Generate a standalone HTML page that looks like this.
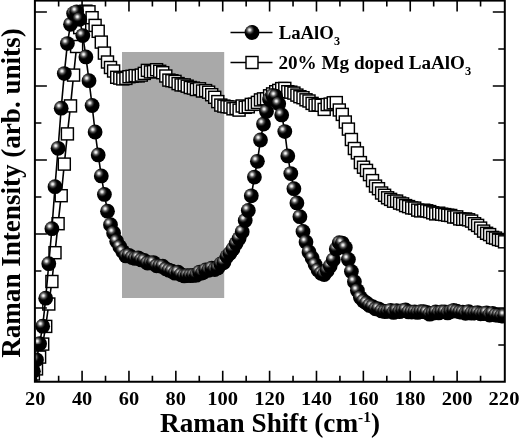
<!DOCTYPE html>
<html><head><meta charset="utf-8"><title>Raman</title><style>html,body{margin:0;padding:0;background:#fff}body{width:520px;height:439px;position:relative;overflow:hidden}</style></head><body>
<svg width="520" height="439" viewBox="0 0 520 439" style="position:absolute;left:0;top:0">
<defs><radialGradient id="g" cx="0.34" cy="0.325" r="0.34"><stop offset="0" stop-color="#fff"/><stop offset="0.2" stop-color="#dadada"/><stop offset="0.5" stop-color="#606060"/><stop offset="0.8" stop-color="#181818"/><stop offset="1" stop-color="#000"/></radialGradient>
<clipPath id="c"><rect x="34.9" y="0.6" width="469.90000000000003" height="381.15"/></clipPath></defs>
<rect width="520" height="439" fill="#fff"/>
<rect x="122" y="52" width="102.2" height="246" fill="#a9a9a9"/>
<g clip-path="url(#c)">
<polyline points="30.3,378.0 33.4,374.0 36.5,368.9 39.6,357.1 42.7,344.1 45.7,326.4 48.8,304.0 51.9,281.5 55.0,252.7 58.1,223.7 61.2,195.7 64.3,164.1 67.4,133.9 70.5,105.9 73.6,75.1 76.6,46.5 79.7,27.6 82.8,16.9 85.9,11.2 89.0,11.8 92.1,17.7 95.1,25.4 98.2,31.3 101.3,42.1 104.4,53.1 107.5,62.0 110.5,67.5 113.6,71.0 116.7,77.3 119.8,78.1 122.8,78.9 125.9,78.4 129.0,76.7 132.1,76.3 135.1,75.6 138.2,75.9 141.3,75.1 144.3,73.4 147.4,70.4 150.5,71.9 153.5,71.6 156.6,69.7 159.7,71.3 162.7,72.7 165.8,76.0 168.9,80.1 171.9,80.7 175.0,81.4 178.1,83.6 181.1,84.9 184.2,84.9 187.2,86.2 190.3,87.5 193.4,88.1 196.4,89.5 199.5,88.8 202.5,91.0 205.6,90.6 208.6,92.2 211.7,94.7 214.7,97.3 217.8,101.6 220.8,105.1 223.9,106.1 227.0,106.7 230.0,107.0 233.0,108.8 236.1,108.5 239.1,110.1 242.2,106.0 245.2,107.3 248.3,106.8 251.3,104.4 254.4,104.2 257.4,102.4 260.5,99.9 263.5,98.9 266.5,98.8 269.6,95.8 272.6,93.9 275.7,91.7 278.7,90.4 281.7,88.6 284.8,88.4 287.8,91.7 290.8,92.2 293.9,93.1 296.9,95.1 299.9,96.7 303.0,97.7 306.0,99.8 309.0,101.0 312.1,103.4 315.1,105.2 318.1,104.8 321.1,105.3 324.2,109.4 327.2,104.6 330.2,104.1 333.3,102.8 336.3,102.6 339.3,110.0 342.3,114.4 345.3,122.0 348.4,129.1 351.4,139.5 354.4,148.5 357.4,152.9 360.4,162.6 363.5,167.2 366.5,170.4 369.5,174.6 372.5,180.6 375.5,186.1 378.5,188.7 381.6,193.0 384.6,195.3 387.6,197.8 390.6,199.4 393.6,201.2 396.6,201.1 399.6,203.1 402.6,203.9 405.6,205.6 408.6,206.6 411.7,207.9 414.7,208.1 417.7,210.1 420.7,210.9 423.7,210.2 426.7,210.8 429.7,211.6 432.7,212.8 435.7,213.9 438.7,213.2 441.7,214.2 444.7,214.6 447.7,215.2 450.7,215.5 453.7,217.0 456.7,216.9 459.7,218.9 462.7,219.3 465.6,219.0 468.6,219.8 471.6,221.1 474.6,223.7 477.6,225.4 480.6,228.1 483.6,231.1 486.6,233.3 489.6,234.6 492.6,237.4 495.5,238.1 498.5,239.5 501.5,240.2 504.5,241.8" fill="none" stroke="#000" stroke-width="1.6"/>
<g fill="#fff" stroke="#000" stroke-width="1.45">
<rect x="24.3" y="372.0" width="12.0" height="12.0"/>
<rect x="27.4" y="368.0" width="12.0" height="12.0"/>
<rect x="30.5" y="362.9" width="12.0" height="12.0"/>
<rect x="33.6" y="351.1" width="12.0" height="12.0"/>
<rect x="36.7" y="338.1" width="12.0" height="12.0"/>
<rect x="39.7" y="320.4" width="12.0" height="12.0"/>
<rect x="42.8" y="298.0" width="12.0" height="12.0"/>
<rect x="45.9" y="275.5" width="12.0" height="12.0"/>
<rect x="49.0" y="246.7" width="12.0" height="12.0"/>
<rect x="52.1" y="217.7" width="12.0" height="12.0"/>
<rect x="55.2" y="189.7" width="12.0" height="12.0"/>
<rect x="58.3" y="158.1" width="12.0" height="12.0"/>
<rect x="61.4" y="127.9" width="12.0" height="12.0"/>
<rect x="64.5" y="99.9" width="12.0" height="12.0"/>
<rect x="67.6" y="69.1" width="12.0" height="12.0"/>
<rect x="70.6" y="40.5" width="12.0" height="12.0"/>
<rect x="73.7" y="21.6" width="12.0" height="12.0"/>
<rect x="76.8" y="10.9" width="12.0" height="12.0"/>
<rect x="79.9" y="5.2" width="12.0" height="12.0"/>
<rect x="83.0" y="5.8" width="12.0" height="12.0"/>
<rect x="86.1" y="11.7" width="12.0" height="12.0"/>
<rect x="89.1" y="19.4" width="12.0" height="12.0"/>
<rect x="92.2" y="25.3" width="12.0" height="12.0"/>
<rect x="95.3" y="36.1" width="12.0" height="12.0"/>
<rect x="98.4" y="47.1" width="12.0" height="12.0"/>
<rect x="101.5" y="56.0" width="12.0" height="12.0"/>
<rect x="104.5" y="61.5" width="12.0" height="12.0"/>
<rect x="107.6" y="65.0" width="12.0" height="12.0"/>
<rect x="110.7" y="71.3" width="12.0" height="12.0"/>
<rect x="113.8" y="72.1" width="12.0" height="12.0"/>
<rect x="116.8" y="72.9" width="12.0" height="12.0"/>
<rect x="119.9" y="72.4" width="12.0" height="12.0"/>
<rect x="123.0" y="70.7" width="12.0" height="12.0"/>
<rect x="126.1" y="70.3" width="12.0" height="12.0"/>
<rect x="129.1" y="69.6" width="12.0" height="12.0"/>
<rect x="132.2" y="69.9" width="12.0" height="12.0"/>
<rect x="135.3" y="69.1" width="12.0" height="12.0"/>
<rect x="138.3" y="67.4" width="12.0" height="12.0"/>
<rect x="141.4" y="64.4" width="12.0" height="12.0"/>
<rect x="144.5" y="65.9" width="12.0" height="12.0"/>
<rect x="147.5" y="65.6" width="12.0" height="12.0"/>
<rect x="150.6" y="63.7" width="12.0" height="12.0"/>
<rect x="153.7" y="65.3" width="12.0" height="12.0"/>
<rect x="156.7" y="66.7" width="12.0" height="12.0"/>
<rect x="159.8" y="70.0" width="12.0" height="12.0"/>
<rect x="162.9" y="74.1" width="12.0" height="12.0"/>
<rect x="165.9" y="74.7" width="12.0" height="12.0"/>
<rect x="169.0" y="75.4" width="12.0" height="12.0"/>
<rect x="172.1" y="77.6" width="12.0" height="12.0"/>
<rect x="175.1" y="78.9" width="12.0" height="12.0"/>
<rect x="178.2" y="78.9" width="12.0" height="12.0"/>
<rect x="181.2" y="80.2" width="12.0" height="12.0"/>
<rect x="184.3" y="81.5" width="12.0" height="12.0"/>
<rect x="187.4" y="82.1" width="12.0" height="12.0"/>
<rect x="190.4" y="83.5" width="12.0" height="12.0"/>
<rect x="193.5" y="82.8" width="12.0" height="12.0"/>
<rect x="196.5" y="85.0" width="12.0" height="12.0"/>
<rect x="199.6" y="84.6" width="12.0" height="12.0"/>
<rect x="202.6" y="86.2" width="12.0" height="12.0"/>
<rect x="205.7" y="88.7" width="12.0" height="12.0"/>
<rect x="208.7" y="91.3" width="12.0" height="12.0"/>
<rect x="211.8" y="95.6" width="12.0" height="12.0"/>
<rect x="214.8" y="99.1" width="12.0" height="12.0"/>
<rect x="217.9" y="100.1" width="12.0" height="12.0"/>
<rect x="221.0" y="100.7" width="12.0" height="12.0"/>
<rect x="224.0" y="101.0" width="12.0" height="12.0"/>
<rect x="227.0" y="102.8" width="12.0" height="12.0"/>
<rect x="230.1" y="102.5" width="12.0" height="12.0"/>
<rect x="233.1" y="104.1" width="12.0" height="12.0"/>
<rect x="236.2" y="100.0" width="12.0" height="12.0"/>
<rect x="239.2" y="101.3" width="12.0" height="12.0"/>
<rect x="242.3" y="100.8" width="12.0" height="12.0"/>
<rect x="245.3" y="98.4" width="12.0" height="12.0"/>
<rect x="248.4" y="98.2" width="12.0" height="12.0"/>
<rect x="251.4" y="96.4" width="12.0" height="12.0"/>
<rect x="254.5" y="93.9" width="12.0" height="12.0"/>
<rect x="257.5" y="92.9" width="12.0" height="12.0"/>
<rect x="260.5" y="92.8" width="12.0" height="12.0"/>
<rect x="263.6" y="89.8" width="12.0" height="12.0"/>
<rect x="266.6" y="87.9" width="12.0" height="12.0"/>
<rect x="269.7" y="85.7" width="12.0" height="12.0"/>
<rect x="272.7" y="84.4" width="12.0" height="12.0"/>
<rect x="275.7" y="82.6" width="12.0" height="12.0"/>
<rect x="278.8" y="82.4" width="12.0" height="12.0"/>
<rect x="281.8" y="85.7" width="12.0" height="12.0"/>
<rect x="284.8" y="86.2" width="12.0" height="12.0"/>
<rect x="287.9" y="87.1" width="12.0" height="12.0"/>
<rect x="290.9" y="89.1" width="12.0" height="12.0"/>
<rect x="293.9" y="90.7" width="12.0" height="12.0"/>
<rect x="297.0" y="91.7" width="12.0" height="12.0"/>
<rect x="300.0" y="93.8" width="12.0" height="12.0"/>
<rect x="303.0" y="95.0" width="12.0" height="12.0"/>
<rect x="306.1" y="97.4" width="12.0" height="12.0"/>
<rect x="309.1" y="99.2" width="12.0" height="12.0"/>
<rect x="312.1" y="98.8" width="12.0" height="12.0"/>
<rect x="315.1" y="99.3" width="12.0" height="12.0"/>
<rect x="318.2" y="103.4" width="12.0" height="12.0"/>
<rect x="321.2" y="98.6" width="12.0" height="12.0"/>
<rect x="324.2" y="98.1" width="12.0" height="12.0"/>
<rect x="327.3" y="96.8" width="12.0" height="12.0"/>
<rect x="330.3" y="96.6" width="12.0" height="12.0"/>
<rect x="333.3" y="104.0" width="12.0" height="12.0"/>
<rect x="336.3" y="108.4" width="12.0" height="12.0"/>
<rect x="339.3" y="116.0" width="12.0" height="12.0"/>
<rect x="342.4" y="123.1" width="12.0" height="12.0"/>
<rect x="345.4" y="133.5" width="12.0" height="12.0"/>
<rect x="348.4" y="142.5" width="12.0" height="12.0"/>
<rect x="351.4" y="146.9" width="12.0" height="12.0"/>
<rect x="354.4" y="156.6" width="12.0" height="12.0"/>
<rect x="357.5" y="161.2" width="12.0" height="12.0"/>
<rect x="360.5" y="164.4" width="12.0" height="12.0"/>
<rect x="363.5" y="168.6" width="12.0" height="12.0"/>
<rect x="366.5" y="174.6" width="12.0" height="12.0"/>
<rect x="369.5" y="180.1" width="12.0" height="12.0"/>
<rect x="372.5" y="182.7" width="12.0" height="12.0"/>
<rect x="375.6" y="187.0" width="12.0" height="12.0"/>
<rect x="378.6" y="189.3" width="12.0" height="12.0"/>
<rect x="381.6" y="191.8" width="12.0" height="12.0"/>
<rect x="384.6" y="193.4" width="12.0" height="12.0"/>
<rect x="387.6" y="195.2" width="12.0" height="12.0"/>
<rect x="390.6" y="195.1" width="12.0" height="12.0"/>
<rect x="393.6" y="197.1" width="12.0" height="12.0"/>
<rect x="396.6" y="197.9" width="12.0" height="12.0"/>
<rect x="399.6" y="199.6" width="12.0" height="12.0"/>
<rect x="402.6" y="200.6" width="12.0" height="12.0"/>
<rect x="405.7" y="201.9" width="12.0" height="12.0"/>
<rect x="408.7" y="202.1" width="12.0" height="12.0"/>
<rect x="411.7" y="204.1" width="12.0" height="12.0"/>
<rect x="414.7" y="204.9" width="12.0" height="12.0"/>
<rect x="417.7" y="204.2" width="12.0" height="12.0"/>
<rect x="420.7" y="204.8" width="12.0" height="12.0"/>
<rect x="423.7" y="205.6" width="12.0" height="12.0"/>
<rect x="426.7" y="206.8" width="12.0" height="12.0"/>
<rect x="429.7" y="207.9" width="12.0" height="12.0"/>
<rect x="432.7" y="207.2" width="12.0" height="12.0"/>
<rect x="435.7" y="208.2" width="12.0" height="12.0"/>
<rect x="438.7" y="208.6" width="12.0" height="12.0"/>
<rect x="441.7" y="209.2" width="12.0" height="12.0"/>
<rect x="444.7" y="209.5" width="12.0" height="12.0"/>
<rect x="447.7" y="211.0" width="12.0" height="12.0"/>
<rect x="450.7" y="210.9" width="12.0" height="12.0"/>
<rect x="453.7" y="212.9" width="12.0" height="12.0"/>
<rect x="456.7" y="213.3" width="12.0" height="12.0"/>
<rect x="459.6" y="213.0" width="12.0" height="12.0"/>
<rect x="462.6" y="213.8" width="12.0" height="12.0"/>
<rect x="465.6" y="215.1" width="12.0" height="12.0"/>
<rect x="468.6" y="217.7" width="12.0" height="12.0"/>
<rect x="471.6" y="219.4" width="12.0" height="12.0"/>
<rect x="474.6" y="222.1" width="12.0" height="12.0"/>
<rect x="477.6" y="225.1" width="12.0" height="12.0"/>
<rect x="480.6" y="227.3" width="12.0" height="12.0"/>
<rect x="483.6" y="228.6" width="12.0" height="12.0"/>
<rect x="486.6" y="231.4" width="12.0" height="12.0"/>
<rect x="489.5" y="232.1" width="12.0" height="12.0"/>
<rect x="492.5" y="233.5" width="12.0" height="12.0"/>
<rect x="495.5" y="234.2" width="12.0" height="12.0"/>
<rect x="498.5" y="235.8" width="12.0" height="12.0"/>
</g>
<polyline points="30.3,381.0 33.4,371.3 36.5,359.8 39.6,343.7 42.7,326.2 45.7,298.2 48.8,263.7 51.9,228.7 55.0,186.7 58.1,148.3 61.2,108.2 64.3,73.6 67.4,43.6 70.5,24.3 73.6,13.4 76.6,11.8 79.7,19.3 82.8,35.6 85.9,56.9 89.0,80.7 92.1,105.5 95.1,132.0 98.2,154.9 101.3,175.9 104.4,194.4 107.5,211.2 110.5,224.7 113.6,232.9 116.7,241.2 119.8,246.7 122.8,251.5 125.9,255.9 129.0,255.3 132.1,257.5 135.1,258.4 138.2,257.8 141.3,259.9 144.3,260.4 147.4,263.1 150.5,262.9 153.5,262.6 156.6,265.8 159.7,266.1 162.7,266.2 165.8,268.8 168.9,270.2 171.9,271.2 175.0,273.2 178.1,272.2 181.1,274.7 184.2,275.9 187.2,275.6 190.3,275.7 193.4,275.4 196.4,275.2 199.5,272.1 202.5,273.1 205.6,269.9 208.6,270.3 211.7,268.1 214.7,269.5 217.8,267.9 220.8,264.0 223.9,262.4 227.0,256.4 230.0,253.2 233.0,248.9 236.1,243.6 239.1,238.4 242.2,231.8 245.2,220.4 248.3,210.4 251.3,195.8 254.4,177.1 257.4,161.3 260.5,140.0 263.5,124.1 266.5,111.6 269.6,99.4 272.6,95.5 275.7,96.2 278.7,103.7 281.7,114.9 284.8,131.6 287.8,155.9 290.8,173.6 293.9,188.7 296.9,202.9 299.9,216.7 303.0,231.5 306.0,242.0 309.0,252.0 312.1,258.0 315.1,264.6 318.1,270.1 321.1,273.3 324.2,274.5 327.2,270.7 330.2,266.1 333.3,259.8 336.3,248.9 339.3,242.7 342.3,243.1 345.3,247.6 348.4,259.4 351.4,271.4 354.4,281.7 357.4,290.6 360.4,297.5 363.5,300.9 366.5,303.0 369.5,305.4 372.5,306.6 375.5,308.8 378.5,308.8 381.6,310.9 384.6,311.5 387.6,311.4 390.6,310.3 393.6,312.4 396.6,310.6 399.6,311.7 402.6,310.7 405.6,310.0 408.6,311.9 411.7,312.1 414.7,311.9 417.7,312.4 420.7,311.7 423.7,311.7 426.7,312.3 429.7,314.2 432.7,313.2 435.7,312.0 438.7,312.9 441.7,311.8 444.7,311.8 447.7,312.9 450.7,311.6 453.7,310.5 456.7,311.2 459.7,312.1 462.7,312.2 465.6,313.3 468.6,311.7 471.6,313.2 474.6,313.1 477.6,312.7 480.6,313.8 483.6,313.7 486.6,312.9 489.6,315.0 492.6,313.4 495.5,315.0 498.5,315.3 501.5,316.1 504.5,315.3" fill="none" stroke="#000" stroke-width="1.6"/>
<g fill="url(#g)">
<circle cx="30.3" cy="381.0" r="7.4"/>
<circle cx="33.4" cy="371.3" r="7.4"/>
<circle cx="36.5" cy="359.8" r="7.4"/>
<circle cx="39.6" cy="343.7" r="7.4"/>
<circle cx="42.7" cy="326.2" r="7.4"/>
<circle cx="45.7" cy="298.2" r="7.4"/>
<circle cx="48.8" cy="263.7" r="7.4"/>
<circle cx="51.9" cy="228.7" r="7.4"/>
<circle cx="55.0" cy="186.7" r="7.4"/>
<circle cx="58.1" cy="148.3" r="7.4"/>
<circle cx="61.2" cy="108.2" r="7.4"/>
<circle cx="64.3" cy="73.6" r="7.4"/>
<circle cx="67.4" cy="43.6" r="7.4"/>
<circle cx="70.5" cy="24.3" r="7.4"/>
<circle cx="73.6" cy="13.4" r="7.4"/>
<circle cx="76.6" cy="11.8" r="7.4"/>
<circle cx="79.7" cy="19.3" r="7.4"/>
<circle cx="82.8" cy="35.6" r="7.4"/>
<circle cx="85.9" cy="56.9" r="7.4"/>
<circle cx="89.0" cy="80.7" r="7.4"/>
<circle cx="92.1" cy="105.5" r="7.4"/>
<circle cx="95.1" cy="132.0" r="7.4"/>
<circle cx="98.2" cy="154.9" r="7.4"/>
<circle cx="101.3" cy="175.9" r="7.4"/>
<circle cx="104.4" cy="194.4" r="7.4"/>
<circle cx="107.5" cy="211.2" r="7.4"/>
<circle cx="110.5" cy="224.7" r="7.4"/>
<circle cx="113.6" cy="232.9" r="7.4"/>
<circle cx="116.7" cy="241.2" r="7.4"/>
<circle cx="119.8" cy="246.7" r="7.4"/>
<circle cx="122.8" cy="251.5" r="7.4"/>
<circle cx="125.9" cy="255.9" r="7.4"/>
<circle cx="129.0" cy="255.3" r="7.4"/>
<circle cx="132.1" cy="257.5" r="7.4"/>
<circle cx="135.1" cy="258.4" r="7.4"/>
<circle cx="138.2" cy="257.8" r="7.4"/>
<circle cx="141.3" cy="259.9" r="7.4"/>
<circle cx="144.3" cy="260.4" r="7.4"/>
<circle cx="147.4" cy="263.1" r="7.4"/>
<circle cx="150.5" cy="262.9" r="7.4"/>
<circle cx="153.5" cy="262.6" r="7.4"/>
<circle cx="156.6" cy="265.8" r="7.4"/>
<circle cx="159.7" cy="266.1" r="7.4"/>
<circle cx="162.7" cy="266.2" r="7.4"/>
<circle cx="165.8" cy="268.8" r="7.4"/>
<circle cx="168.9" cy="270.2" r="7.4"/>
<circle cx="171.9" cy="271.2" r="7.4"/>
<circle cx="175.0" cy="273.2" r="7.4"/>
<circle cx="178.1" cy="272.2" r="7.4"/>
<circle cx="181.1" cy="274.7" r="7.4"/>
<circle cx="184.2" cy="275.9" r="7.4"/>
<circle cx="187.2" cy="275.6" r="7.4"/>
<circle cx="190.3" cy="275.7" r="7.4"/>
<circle cx="193.4" cy="275.4" r="7.4"/>
<circle cx="196.4" cy="275.2" r="7.4"/>
<circle cx="199.5" cy="272.1" r="7.4"/>
<circle cx="202.5" cy="273.1" r="7.4"/>
<circle cx="205.6" cy="269.9" r="7.4"/>
<circle cx="208.6" cy="270.3" r="7.4"/>
<circle cx="211.7" cy="268.1" r="7.4"/>
<circle cx="214.7" cy="269.5" r="7.4"/>
<circle cx="217.8" cy="267.9" r="7.4"/>
<circle cx="220.8" cy="264.0" r="7.4"/>
<circle cx="223.9" cy="262.4" r="7.4"/>
<circle cx="227.0" cy="256.4" r="7.4"/>
<circle cx="230.0" cy="253.2" r="7.4"/>
<circle cx="233.0" cy="248.9" r="7.4"/>
<circle cx="236.1" cy="243.6" r="7.4"/>
<circle cx="239.1" cy="238.4" r="7.4"/>
<circle cx="242.2" cy="231.8" r="7.4"/>
<circle cx="245.2" cy="220.4" r="7.4"/>
<circle cx="248.3" cy="210.4" r="7.4"/>
<circle cx="251.3" cy="195.8" r="7.4"/>
<circle cx="254.4" cy="177.1" r="7.4"/>
<circle cx="257.4" cy="161.3" r="7.4"/>
<circle cx="260.5" cy="140.0" r="7.4"/>
<circle cx="263.5" cy="124.1" r="7.4"/>
<circle cx="266.5" cy="111.6" r="7.4"/>
<circle cx="269.6" cy="99.4" r="7.4"/>
<circle cx="272.6" cy="95.5" r="7.4"/>
<circle cx="275.7" cy="96.2" r="7.4"/>
<circle cx="278.7" cy="103.7" r="7.4"/>
<circle cx="281.7" cy="114.9" r="7.4"/>
<circle cx="284.8" cy="131.6" r="7.4"/>
<circle cx="287.8" cy="155.9" r="7.4"/>
<circle cx="290.8" cy="173.6" r="7.4"/>
<circle cx="293.9" cy="188.7" r="7.4"/>
<circle cx="296.9" cy="202.9" r="7.4"/>
<circle cx="299.9" cy="216.7" r="7.4"/>
<circle cx="303.0" cy="231.5" r="7.4"/>
<circle cx="306.0" cy="242.0" r="7.4"/>
<circle cx="309.0" cy="252.0" r="7.4"/>
<circle cx="312.1" cy="258.0" r="7.4"/>
<circle cx="315.1" cy="264.6" r="7.4"/>
<circle cx="318.1" cy="270.1" r="7.4"/>
<circle cx="321.1" cy="273.3" r="7.4"/>
<circle cx="324.2" cy="274.5" r="7.4"/>
<circle cx="327.2" cy="270.7" r="7.4"/>
<circle cx="330.2" cy="266.1" r="7.4"/>
<circle cx="333.3" cy="259.8" r="7.4"/>
<circle cx="336.3" cy="248.9" r="7.4"/>
<circle cx="339.3" cy="242.7" r="7.4"/>
<circle cx="342.3" cy="243.1" r="7.4"/>
<circle cx="345.3" cy="247.6" r="7.4"/>
<circle cx="348.4" cy="259.4" r="7.4"/>
<circle cx="351.4" cy="271.4" r="7.4"/>
<circle cx="354.4" cy="281.7" r="7.4"/>
<circle cx="357.4" cy="290.6" r="7.4"/>
<circle cx="360.4" cy="297.5" r="7.4"/>
<circle cx="363.5" cy="300.9" r="7.4"/>
<circle cx="366.5" cy="303.0" r="7.4"/>
<circle cx="369.5" cy="305.4" r="7.4"/>
<circle cx="372.5" cy="306.6" r="7.4"/>
<circle cx="375.5" cy="308.8" r="7.4"/>
<circle cx="378.5" cy="308.8" r="7.4"/>
<circle cx="381.6" cy="310.9" r="7.4"/>
<circle cx="384.6" cy="311.5" r="7.4"/>
<circle cx="387.6" cy="311.4" r="7.4"/>
<circle cx="390.6" cy="310.3" r="7.4"/>
<circle cx="393.6" cy="312.4" r="7.4"/>
<circle cx="396.6" cy="310.6" r="7.4"/>
<circle cx="399.6" cy="311.7" r="7.4"/>
<circle cx="402.6" cy="310.7" r="7.4"/>
<circle cx="405.6" cy="310.0" r="7.4"/>
<circle cx="408.6" cy="311.9" r="7.4"/>
<circle cx="411.7" cy="312.1" r="7.4"/>
<circle cx="414.7" cy="311.9" r="7.4"/>
<circle cx="417.7" cy="312.4" r="7.4"/>
<circle cx="420.7" cy="311.7" r="7.4"/>
<circle cx="423.7" cy="311.7" r="7.4"/>
<circle cx="426.7" cy="312.3" r="7.4"/>
<circle cx="429.7" cy="314.2" r="7.4"/>
<circle cx="432.7" cy="313.2" r="7.4"/>
<circle cx="435.7" cy="312.0" r="7.4"/>
<circle cx="438.7" cy="312.9" r="7.4"/>
<circle cx="441.7" cy="311.8" r="7.4"/>
<circle cx="444.7" cy="311.8" r="7.4"/>
<circle cx="447.7" cy="312.9" r="7.4"/>
<circle cx="450.7" cy="311.6" r="7.4"/>
<circle cx="453.7" cy="310.5" r="7.4"/>
<circle cx="456.7" cy="311.2" r="7.4"/>
<circle cx="459.7" cy="312.1" r="7.4"/>
<circle cx="462.7" cy="312.2" r="7.4"/>
<circle cx="465.6" cy="313.3" r="7.4"/>
<circle cx="468.6" cy="311.7" r="7.4"/>
<circle cx="471.6" cy="313.2" r="7.4"/>
<circle cx="474.6" cy="313.1" r="7.4"/>
<circle cx="477.6" cy="312.7" r="7.4"/>
<circle cx="480.6" cy="313.8" r="7.4"/>
<circle cx="483.6" cy="313.7" r="7.4"/>
<circle cx="486.6" cy="312.9" r="7.4"/>
<circle cx="489.6" cy="315.0" r="7.4"/>
<circle cx="492.6" cy="313.4" r="7.4"/>
<circle cx="495.5" cy="315.0" r="7.4"/>
<circle cx="498.5" cy="315.3" r="7.4"/>
<circle cx="501.5" cy="316.1" r="7.4"/>
<circle cx="504.5" cy="315.3" r="7.4"/>
</g>
</g>
<rect x="34.9" y="0.6" width="469.90000000000003" height="381.15" fill="none" stroke="#000" stroke-width="2"/>
<path d="M58.64,381.75v-6 M58.64,0.6v6 M82.08,381.75v-11 M82.08,0.6v11 M105.52,381.75v-6 M105.52,0.6v6 M128.96,381.75v-11 M128.96,0.6v11 M152.40,381.75v-6 M152.40,0.6v6 M175.84,381.75v-11 M175.84,0.6v11 M199.28,381.75v-6 M199.28,0.6v6 M222.72,381.75v-11 M222.72,0.6v11 M246.16,381.75v-6 M246.16,0.6v6 M269.60,381.75v-11 M269.60,0.6v11 M293.04,381.75v-6 M293.04,0.6v6 M316.48,381.75v-11 M316.48,0.6v11 M339.92,381.75v-6 M339.92,0.6v6 M363.36,381.75v-11 M363.36,0.6v11 M386.80,381.75v-6 M386.80,0.6v6 M410.24,381.75v-11 M410.24,0.6v11 M433.68,381.75v-6 M433.68,0.6v6 M457.12,381.75v-11 M457.12,0.6v11 M480.56,381.75v-6 M480.56,0.6v6 M34.9,12h12 M504.8,12h-12 M34.9,49h6.5 M504.8,49h-6.5 M34.9,86h12 M504.8,86h-12 M34.9,123h6.5 M504.8,123h-6.5 M34.9,160h12 M504.8,160h-12 M34.9,197h6.5 M504.8,197h-6.5 M34.9,234h12 M504.8,234h-12 M34.9,271h6.5 M504.8,271h-6.5 M34.9,308h12 M504.8,308h-12 M34.9,345h6.5 M504.8,345h-6.5" stroke="#000" stroke-width="1.6" fill="none"/>
<path d="M230.5,32.5H272.5M230.5,62.5H272.5" stroke="#000" stroke-width="1.6"/>
<circle cx="252" cy="32.5" r="7.4" fill="url(#g)"/>
<rect x="246.0" y="56.5" width="12.0" height="12.0" fill="#fff" stroke="#000" stroke-width="1.45"/>
<g font-family="'Liberation Serif', 'Times New Roman', serif" font-weight="bold" fill="#000">
<text x="25.0" y="405" font-size="19" textLength="20.4" lengthAdjust="spacingAndGlyphs">20</text>
<text x="71.9" y="405" font-size="19" textLength="20.4" lengthAdjust="spacingAndGlyphs">40</text>
<text x="118.8" y="405" font-size="19" textLength="20.4" lengthAdjust="spacingAndGlyphs">60</text>
<text x="165.6" y="405" font-size="19" textLength="20.4" lengthAdjust="spacingAndGlyphs">80</text>
<text x="207.3" y="405" font-size="19" textLength="30.8" lengthAdjust="spacingAndGlyphs">100</text>
<text x="254.2" y="405" font-size="19" textLength="30.8" lengthAdjust="spacingAndGlyphs">120</text>
<text x="301.1" y="405" font-size="19" textLength="30.8" lengthAdjust="spacingAndGlyphs">140</text>
<text x="348.0" y="405" font-size="19" textLength="30.8" lengthAdjust="spacingAndGlyphs">160</text>
<text x="394.8" y="405" font-size="19" textLength="30.8" lengthAdjust="spacingAndGlyphs">180</text>
<text x="441.7" y="405" font-size="19" textLength="30.8" lengthAdjust="spacingAndGlyphs">200</text>
<text x="488.6" y="405" font-size="19" textLength="30.8" lengthAdjust="spacingAndGlyphs">220</text>
<text x="160" y="432.2" font-size="26.5" textLength="220" lengthAdjust="spacingAndGlyphs">Raman Shift (cm<tspan font-size="15" dy="-10.6">-1</tspan><tspan dy="10.6">)</tspan></text>
<text transform="translate(19.8,357.8) rotate(-90)" font-size="27" textLength="329.5" lengthAdjust="spacingAndGlyphs">Raman Intensity (arb. units)</text>
<text x="278.7" y="38.9" font-size="18.5" textLength="61.3" lengthAdjust="spacingAndGlyphs">LaAlO<tspan font-size="12" dy="6.4">3</tspan></text>
<text x="278.5" y="68.6" font-size="18.5" textLength="192.7" lengthAdjust="spacingAndGlyphs">20% Mg doped LaAlO<tspan font-size="12" dy="6.4">3</tspan></text>
</g>
</svg>
</body></html>
